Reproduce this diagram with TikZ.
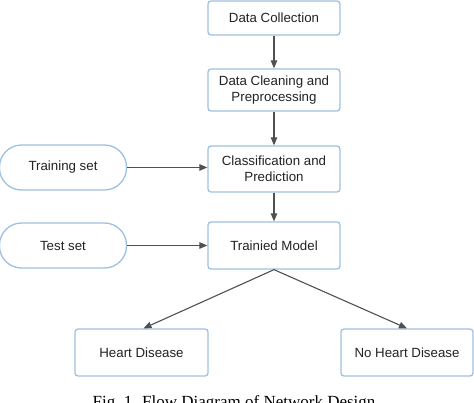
\documentclass[tikz,border=0pt]{standalone}
\usepackage{fontspec}
\setmainfont{Liberation Sans}
\newfontfamily\capfont{Liberation Serif}
\usetikzlibrary{arrows.meta}
\definecolor{boxblue}{RGB}{160,192,225}
\definecolor{txtgray}{RGB}{35,35,35}
\definecolor{arrgray}{RGB}{80,80,80}
\tikzset{
  procbox/.style={draw=boxblue, line width=1.3pt, rounded corners=3pt, fill=white,
    minimum width=132pt, inner sep=0pt, align=center, text=txtgray,
    font=\fontsize{13.3}{16}\selectfont},
  pill/.style={draw=boxblue, line width=1.3pt, rounded corners=22pt, fill=white,
    minimum width=127pt, minimum height=45pt, inner sep=0pt, text=txtgray,
    font=\fontsize{13.3}{16}\selectfont},
  flow/.style={draw=arrgray, line width=1.1pt, -{Triangle[length=8pt,width=6.5pt]}}
}
\begin{document}
\begin{tikzpicture}[x=1pt,y=-1pt]
\useasboundingbox (0,0) rectangle (474,402);
\node[procbox, minimum height=34pt] (dc) at (274,18) {Data Collection};
\node[procbox, minimum height=42pt] (dcp) at (274,90) {Data Cleaning and\\Preprocessing};
\node[procbox, minimum height=46pt] (cp) at (274,169) {Classification and\\Prediction};
\node[procbox, minimum height=47pt] (tm) at (274,245.5) {Trainied Model};
\node[pill] (train) at (63,167.5) {Training set};
\node[pill] (test) at (63,245.5) {Test set};
\node[procbox, minimum width=133pt, minimum height=47pt] (hd) at (141.5,352.5) {Heart Disease};
\node[procbox, minimum width=132pt, minimum height=47pt] (nhd) at (407,352.5) {No Heart Disease};
\draw[flow] (dc) -- (dcp);
\draw[flow] (dcp) -- (cp);
\draw[flow] (cp) -- (tm);
\draw[flow] (train) -- (train -| cp.west);
\draw[flow] (test) -- (test -| tm.west);
\draw[flow] (tm.south) -- ([xshift=2pt]hd.north);
\draw[flow] (tm.south) -- (nhd.north);
\node[anchor=base, text=black, font=\capfont\fontsize{17}{19}\selectfont] (cap) at (234,407) {Fig.~1. Flow Diagram of Network Design};
\end{tikzpicture}
\end{document}
